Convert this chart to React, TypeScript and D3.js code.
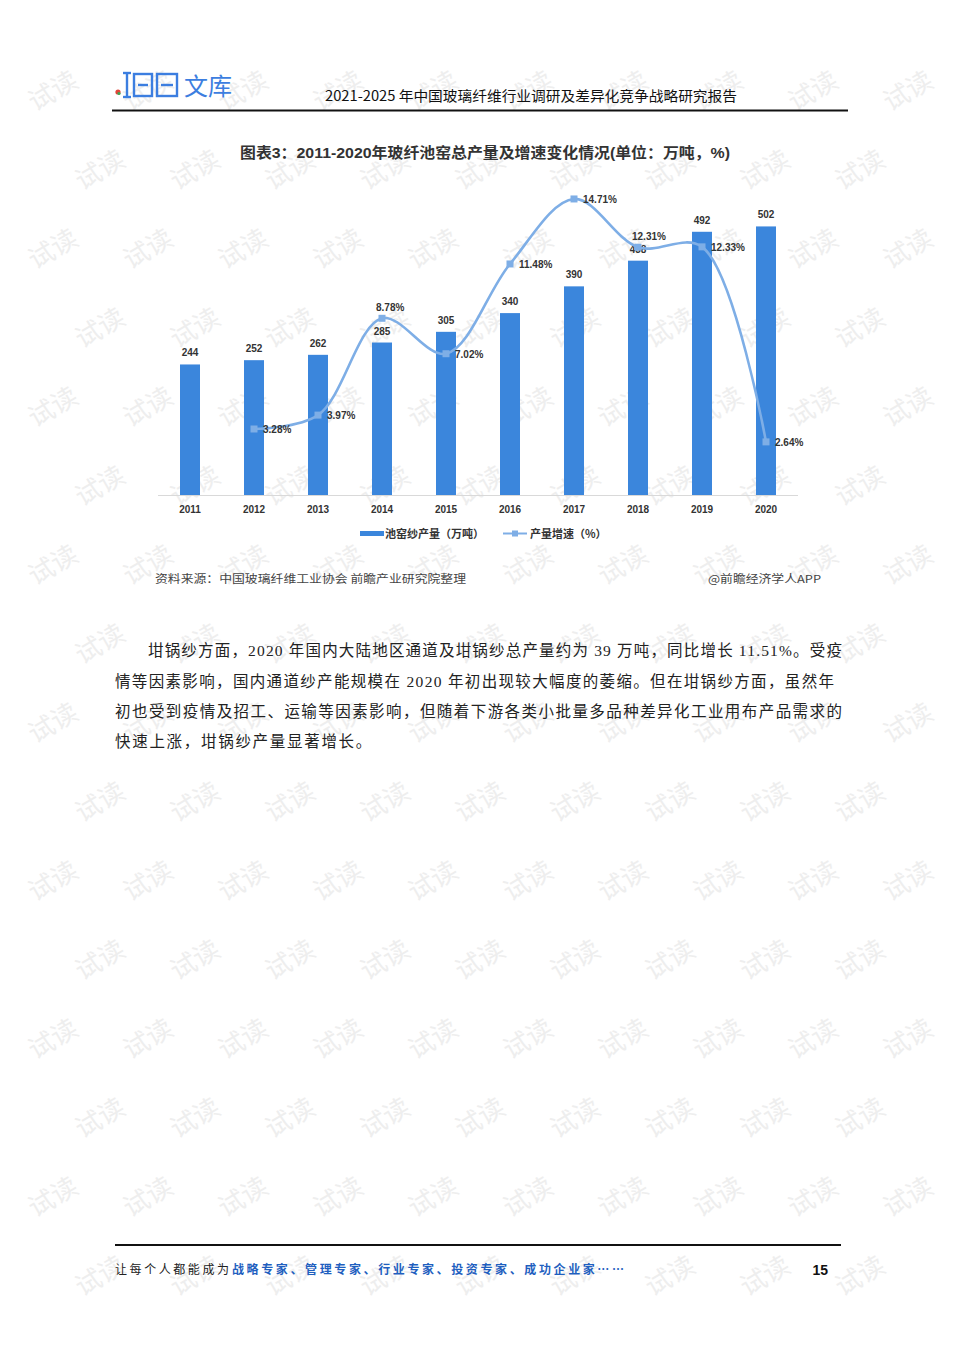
import React from 'react';
import * as d3 from 'd3';

const years = ['2011', '2012', '2013', '2014', '2015', '2016', '2017', '2018', '2019', '2020'];
const output = [244, 252, 262, 285, 305, 340, 390, 438, 492, 502];
const growthYears = ['2012', '2013', '2014', '2015', '2016', '2017', '2018', '2019', '2020'];
const growth = [3.28, 3.97, 8.78, 7.02, 11.48, 14.71, 12.31, 12.33, 2.64];
const growthLabelPlacement = ['right', 'right', 'above', 'right', 'right', 'right', 'above', 'right', 'right'];

const chartTitle = '图表3：2011-2020年玻纤池窑总产量及增速变化情况(单位：万吨，%)';
const legendBar = '池窑纱产量（万吨）';
const legendLine = '产量增速（%）';
const sourceText = '资料来源：中国玻璃纤维工业协会 前瞻产业研究院整理';
const sourceRight = '@前瞻经济学人APP';
const headerTitle = '2021-2025 年中国玻璃纤维行业调研及差异化竞争战略研究报告';
const bodyLines = [
  '坩锅纱方面，2020 年国内大陆地区通道及坩锅纱总产量约为 39 万吨，同比增长 11.51%。受疫',
  '情等因素影响，国内通道纱产能规模在 2020 年初出现较大幅度的萎缩。但在坩锅纱方面，虽然年',
  '初也受到疫情及招工、运输等因素影响，但随着下游各类小批量多品种差异化工业用布产品需求的',
  '快速上涨，坩锅纱产量显著增长。',
];
const footerBlack = '让每个人都能成为';
const footerBlue = '战略专家、管理专家、行业专家、投资专家、成功企业家……';
const pageNumber = '15';

const SANS = '"Liberation Sans", Arial, "Noto Sans CJK SC", sans-serif';
const CJK = '"Noto Sans CJK SC", "Liberation Sans", sans-serif';
const BODY = '"Liberation Serif", "Noto Sans CJK SC", serif';

const BAR = '#3b86dc';
const LINE = '#7eaee6';

export default function App() {
  const W = 960;
  const H = 1357;
  const x = d3.scaleBand<string>().domain(years).range([158, 798]).paddingInner(0.6875).paddingOuter(0.34375);
  const bw = x.bandwidth();
  const yL = d3.scaleLinear().domain([0, 600]).range([495, 174]);
  const yR = d3.scaleLinear().domain([0, 16]).range([495, 173]);
  const cx = (y: string) => (x(y) as number) + bw / 2;

  const pts = growthYears.map((yr, i) => ({ yr, v: growth[i], place: growthLabelPlacement[i] }));
  const linePath = d3
    .line<{ yr: string; v: number }>()
    .x((d) => cx(d.yr))
    .y((d) => yR(d.v))
    .curve(d3.curveCatmullRom.alpha(0.5))(pts) as string;

  // watermark grid (decorative), kept fully inside the page
  const wm: { x: number; y: number }[] = [];
  for (let r = 0; r < 18; r++) {
    const y0 = 12 + r * 79;
    const xs = r % 2 === 0 ? 100 : 53;
    for (let c = -1; c < 11; c++) {
      const px = xs + c * 95;
      if (px >= 34 && px <= 926 && y0 >= 24 && y0 <= 1336) wm.push({ x: px, y: y0 });
    }
  }

  return (
    <svg
      width={W}
      height={H}
      viewBox={`0 0 ${W} ${H}`}
      style={{ position: 'absolute', left: 0, top: 0, background: '#fff' }}
    >
      <rect x={0} y={0} width={W} height={H} fill="#fff" />
      {/* watermarks */}
      <g fill="#eeeeee" fontFamily={CJK} fontSize={26} textAnchor="middle">
        {wm.map((p, i) => (
          <text key={i} x={p.x} y={p.y + 9} transform={`rotate(-30 ${p.x} ${p.y})`}>
            试读
          </text>
        ))}
      </g>

      {/* header */}
      <g>
        <circle cx={118} cy={92} r={2.6} fill="#e0463a" />
        <circle cx={119} cy={93.5} r={1.6} fill="#3aa757" />
        <g fill="none" stroke="#3c7ee0" strokeWidth={2.4}>
          <line x1={127} y1={73} x2={127} y2={97} />
          <line x1={123} y1={73} x2={131} y2={73} />
          <line x1={123} y1={97} x2={131} y2={97} />
          <rect x={134} y={74} width={18} height={22} />
          <line x1={138} y1={85} x2={148} y2={85} />
          <rect x={157} y={74} width={20} height={22} />
          <line x1={161} y1={85} x2={173} y2={85} />
        </g>
        <text x={184} y={95} fontFamily={CJK} fontSize={24} fill="#3c7ee0">
          文库
        </text>
        <text x={325} y={101} fontFamily={CJK} fontSize={14} fill="#111" textLength={412} lengthAdjust="spacingAndGlyphs">
          {headerTitle}
        </text>
        <line x1={112} y1={110.5} x2={848} y2={110.5} stroke="#111" strokeWidth={2} />
      </g>

      {/* chart title */}
      <text x={240} y={158} fontFamily={SANS} fontWeight="bold" fontSize={15} fill="#333" textLength={490} lengthAdjust="spacingAndGlyphs">
        {chartTitle}
      </text>

      {/* axis line */}
      <line x1={158} x2={798} y1={495.5} y2={495.5} stroke="#d9d9d9" strokeWidth={1} />

      {/* bars */}
      <g>
        {years.map((yr, i) => (
          <rect key={yr} x={x(yr)} y={yL(output[i])} width={bw} height={yL(0) - yL(output[i])} fill={BAR} />
        ))}
      </g>
      <g fontFamily={SANS} fontWeight="bold" fontSize={10} fill="#333" textAnchor="middle">
        {years.map((yr, i) => (
          <text key={yr} x={cx(yr)} y={yL(output[i]) - 8}>
            {output[i]}
          </text>
        ))}
      </g>

      {/* growth line */}
      <path d={linePath} fill="none" stroke={LINE} strokeWidth={2.6} />
      <g fill={LINE}>
        {pts.map((p) => (
          <rect key={p.yr} x={cx(p.yr) - 3.5} y={yR(p.v) - 3.5} width={7} height={7} />
        ))}
      </g>
      <g fontFamily={SANS} fontWeight="bold" fontSize={10} fill="#333">
        {pts.map((p) =>
          p.place === 'above' ? (
            <text key={p.yr} x={cx(p.yr) - 6} y={yR(p.v) - 7}>
              {p.v.toFixed(2)}%
            </text>
          ) : (
            <text key={p.yr} x={cx(p.yr) + 9} y={yR(p.v) + 4}>
              {p.v.toFixed(2)}%
            </text>
          )
        )}
      </g>

      {/* x labels */}
      <g fontFamily={SANS} fontWeight="bold" fontSize={10} fill="#333" textAnchor="middle">
        {years.map((yr) => (
          <text key={yr} x={cx(yr)} y={513}>
            {yr}
          </text>
        ))}
      </g>

      {/* legend */}
      <g>
        <rect x={360} y={531} width={24} height={5} fill={BAR} />
        <text x={385} y={537.5} fontFamily={CJK} fontWeight="bold" fontSize={11} fill="#333">
          {legendBar}
        </text>
        <line x1={503} x2={527} y1={533.5} y2={533.5} stroke={LINE} strokeWidth={2} />
        <rect x={512} y={530.5} width={6} height={6} fill={LINE} />
        <text x={530} y={537.5} fontFamily={CJK} fontWeight="bold" fontSize={11} fill="#333">
          {legendLine}
        </text>
      </g>

      {/* source */}
      <text x={155} y={583} fontFamily={CJK} fontSize={11} fill="#444" textLength={311} lengthAdjust="spacingAndGlyphs">
        {sourceText}
      </text>
      <text x={708} y={583} fontFamily={CJK} fontSize={11} fill="#444" textLength={113} lengthAdjust="spacingAndGlyphs">
        {sourceRight}
      </text>

      {/* body text */}
      <g fontFamily={BODY} fontSize={15.5} fill="#222">
        <text x={148} y={656} textLength={694} lengthAdjust="spacing">{bodyLines[0]}</text>
        <text x={115} y={687} textLength={719} lengthAdjust="spacing">{bodyLines[1]}</text>
        <text x={115} y={717} textLength={727} lengthAdjust="spacing">{bodyLines[2]}</text>
        <text x={115} y={747} letterSpacing={1.7}>{bodyLines[3]}</text>
      </g>

      {/* footer */}
      <line x1={115} y1={1245} x2={841} y2={1245} stroke="#111" strokeWidth={2} />
      <text x={115} y={1274} fontFamily={CJK} fontSize={12} fill="#222" textLength={114} lengthAdjust="spacing">
        {footerBlack}
      </text>
      <text x={232} y={1274} fontFamily={CJK} fontSize={12} fontWeight="bold" fill="#1f5fbf" textLength={392} lengthAdjust="spacing">
        {footerBlue}
      </text>
      <text x={828} y={1275} fontFamily={SANS} fontWeight="bold" fontSize={14} fill="#111" textAnchor="end">
        {pageNumber}
      </text>
    </svg>
  );
}
